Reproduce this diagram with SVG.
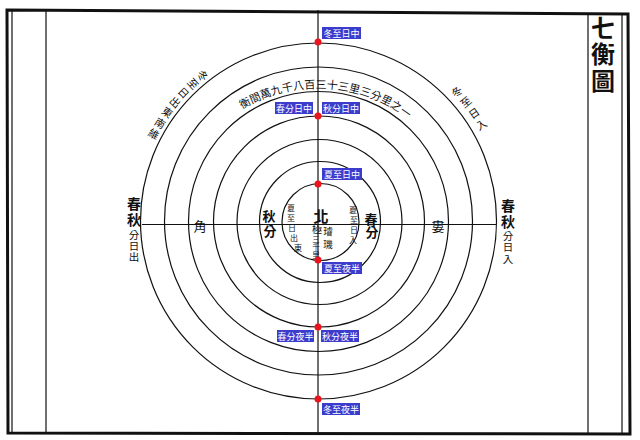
<svg xmlns="http://www.w3.org/2000/svg" width="640" height="440" viewBox="0 0 640 440">
<style>
.c{fill:none;stroke:#111;stroke-width:1.2}
.fr{fill:none;stroke:#111;stroke-width:3}
.ln{stroke:#111;stroke-width:1.2;fill:none}
.t{font-family:"Noto Sans CJK TC","Noto Sans CJK SC",sans-serif;fill:#111}
.lb{fill:#3c3ccc}
.lt{font-family:"Noto Sans CJK SC",sans-serif;font-size:9px;fill:#fff;text-anchor:middle}
.dot{fill:#e8141e}
</style>
<g id="frame">
<path class="fr" d="M7,10 L628,14 L630,434 L8,433 Z"/>
<path class="ln" d="M12,11 V433 M46,11 V433 M588,13 V434 M622,14 V434" stroke-width="1"/>
</g>
<g id="title">
<text class="t" x="603" y="37" font-size="24" font-weight="bold" text-anchor="middle">七</text>
<text class="t" x="603" y="63" font-size="24" font-weight="bold" text-anchor="middle">衡</text>
<text class="t" x="603" y="90" font-size="24" font-weight="bold" text-anchor="middle">圖</text>
</g>
<g id="circles">
<circle class="c" cx="318.5" cy="221" r="178" stroke-width="1.5"/>
<circle class="c" cx="318.5" cy="221" r="154"/>
<circle class="c" cx="318.5" cy="221.5" r="130"/>
<circle class="c" cx="319" cy="221.5" r="105.5"/>
<circle class="c" cx="319.5" cy="222" r="82.5"/>
<circle class="c" cx="320" cy="222" r="60.5"/>
<circle class="c" cx="320.5" cy="222" r="38.5"/>
</g>
<g id="connectors">
<path class="ln" d="M318,10 V434"/>
<path class="ln" d="M142,224.5 H496" stroke-width="1.5"/>
</g>
<g id="ring-text">
<path id="arc1" d="M209.2,136 A142,133 0 0 1 434.3,145.2" fill="none"/>
<text class="t" font-size="11"><textPath href="#arc1" startOffset="51%" text-anchor="middle">衡間萬九千八百三十三里三分里之一</textPath></text>
</g>
<g id="outer-left" class="t" font-size="10.5" text-anchor="middle" dominant-baseline="central">
<text transform="translate(203,75.3) rotate(51.8)">冬</text>
<text transform="translate(193.3,83.5) rotate(47.9)">至</text>
<text transform="translate(184,92.5) rotate(43.9)">日</text>
<text transform="translate(175.5,101.9) rotate(40)">出</text>
<text transform="translate(167.7,111.9) rotate(36.1)">東</text>
<text transform="translate(160.4,122.7) rotate(32.1)">南</text>
<text transform="translate(154.1,133.6) rotate(28.2)">維</text>
</g>
<g id="outer-right" class="t" font-size="10.5" text-anchor="middle" dominant-baseline="central">
<text transform="translate(456.5,91.4) rotate(-43.2)">冬</text>
<text transform="translate(465.4,101.7) rotate(-39.1)">至</text>
<text transform="translate(473.8,112.8) rotate(-34.9)">日</text>
<text transform="translate(481.2,124.2) rotate(-30.8)">入</text>
</g>
<g id="axis-left" class="t" text-anchor="middle" dominant-baseline="central">
<text x="134" y="203" font-size="14" font-weight="bold">春</text>
<text x="134" y="219" font-size="14" font-weight="bold">秋</text>
<text x="134" y="234" font-size="10.5">分</text>
<text x="134" y="245" font-size="10.5">日</text>
<text x="134" y="256" font-size="10.5">出</text>
</g>
<g id="axis-right" class="t" text-anchor="middle" dominant-baseline="central">
<text x="508" y="205" font-size="14" font-weight="bold">春</text>
<text x="508" y="221" font-size="14" font-weight="bold">秋</text>
<text x="508" y="235" font-size="10.5">分</text>
<text x="508" y="246.5" font-size="10.5">日</text>
<text x="508" y="258" font-size="10.5">入</text>
</g>
<g id="stars" class="t" text-anchor="middle" font-size="13">
<text x="200" y="231">角</text>
<text x="438" y="231">婁</text>
</g>
<g id="equinox" class="t" text-anchor="middle" font-size="13" font-weight="bold">
<text x="269" y="221">秋</text>
<text x="270" y="236">分</text>
<text x="371" y="224">春</text>
<text x="372" y="237">分</text>
</g>
<g id="inner-text" class="t" font-size="8" text-anchor="middle" dominant-baseline="central">
<text x="291" y="207">夏</text>
<text x="291" y="217">至</text>
<text x="292" y="227">日</text>
<text x="294" y="237">出</text>
<text x="298" y="247">東</text>
<text x="353" y="209">夏</text>
<text x="354" y="219">至</text>
<text x="354" y="229">日</text>
<text x="353" y="239">入</text>
</g>
<g id="center" class="t" text-anchor="middle" dominant-baseline="central">
<text x="321" y="215" font-size="15" font-weight="bold">北</text>
<text x="317" y="228" font-size="10">極</text>
<text x="316" y="238" font-size="7.5">三</text>
<text x="316" y="246" font-size="7.5">千</text>
<text x="316" y="254" font-size="7.5">里</text>
<text x="328" y="231" font-size="9.5">璿</text>
<text x="328" y="244" font-size="9.5">璣</text>
</g>
<g id="dots">
<circle class="dot" cx="318" cy="42" r="3.5"/>
<circle class="dot" cx="318" cy="116" r="3.5"/>
<circle class="dot" cx="318" cy="184" r="3.5"/>
<circle class="dot" cx="318" cy="260" r="3.5"/>
<circle class="dot" cx="318" cy="327" r="3.5"/>
<circle class="dot" cx="318" cy="399" r="3.5"/>
</g>
<g id="labels">
<rect class="lb" x="322" y="27" width="39" height="12"/><text class="lt" x="341.5" y="36.5">冬至日中</text>
<rect class="lb" x="275" y="102" width="38" height="12"/><text class="lt" x="294" y="111.5">春分日中</text>
<rect class="lb" x="322" y="102" width="38" height="12"/><text class="lt" x="341" y="111.5">秋分日中</text>
<rect class="lb" x="322" y="168" width="40" height="12"/><text class="lt" x="342" y="177.5">夏至日中</text>
<rect class="lb" x="322" y="262" width="40" height="12"/><text class="lt" x="342" y="271.5">夏至夜半</text>
<rect class="lb" x="277" y="330" width="37" height="12"/><text class="lt" x="295.5" y="339.5">春分夜半</text>
<rect class="lb" x="321" y="330" width="38" height="12"/><text class="lt" x="340" y="339.5">秋分夜半</text>
<rect class="lb" x="322" y="403" width="38" height="12"/><text class="lt" x="341" y="412.5">冬至夜半</text>
</g>
</svg>
